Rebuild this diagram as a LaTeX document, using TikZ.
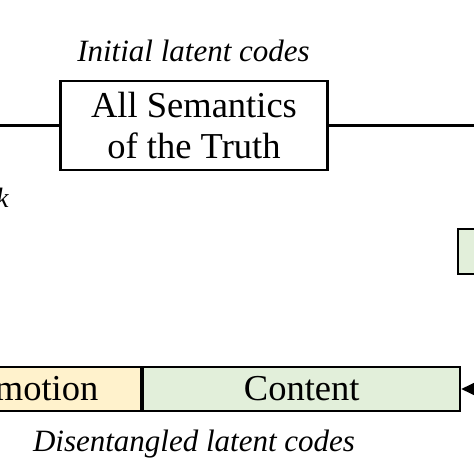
\documentclass[tikz,border=0pt]{standalone}
\usepackage{fontspec}
\setmainfont{Liberation Serif}
\usetikzlibrary{positioning,arrows.meta}

\definecolor{emocream}{HTML}{FFF2CC}
\definecolor{congreen}{HTML}{E2EFDA}

\tikzset{
    codebox/.style={draw=black, line width=2.2pt, inner sep=0pt, align=center,
        font=\fontsize{36.5}{43}\selectfont},
    codelabel/.style={font=\fontsize{31}{36}\selectfont\itshape, anchor=base},
    link/.style={line width=2.2pt}
}

\begin{document}
\begin{tikzpicture}[x=1pt,y=1pt]
    \useasboundingbox (0,0) rectangle (474,474);

    % Initial latent codes (top)
    \node[codebox, minimum width=267, minimum height=89] (truth) at (194,348.5)
        {All Semantics\\[-2pt]of the Truth};
    \node[codelabel] (initlab) at (193.5,412) {Initial latent codes};
    \coordinate (inleft) at (-10,348.5);
    \coordinate (inright) at (484,348.5);
    \draw[link] (inleft) -- (truth.west);
    \draw[link] (truth.east) -- (inright);

    % cut-off label on the left
    \node[font=\fontsize{28}{32}\selectfont\itshape, anchor=base west, inner sep=0pt] (klab) at (-4,266) {k};

    % green block on the right (cut off)
    \node[draw=black, line width=2.2pt, fill=congreen, minimum width=80, minimum height=45,
        inner sep=0pt, anchor=west] (sidebox) at (457,222.5) {};

    % Disentangled latent codes (bottom)
    \node[codebox, fill=emocream, minimum width=211, minimum height=44] (emotion) at (35.5,85) {Emotion};
    \node[codebox, fill=congreen, minimum width=317, minimum height=44, right=0pt of emotion] (content) {Content};
    \node[codelabel] (dislab) at (194,23) {Disentangled latent codes};
    \coordinate (arrin) at (494,85);
    \draw[link, -{Triangle[length=15pt, width=14pt]}] (arrin) -- (content.east);
\end{tikzpicture}
\end{document}
